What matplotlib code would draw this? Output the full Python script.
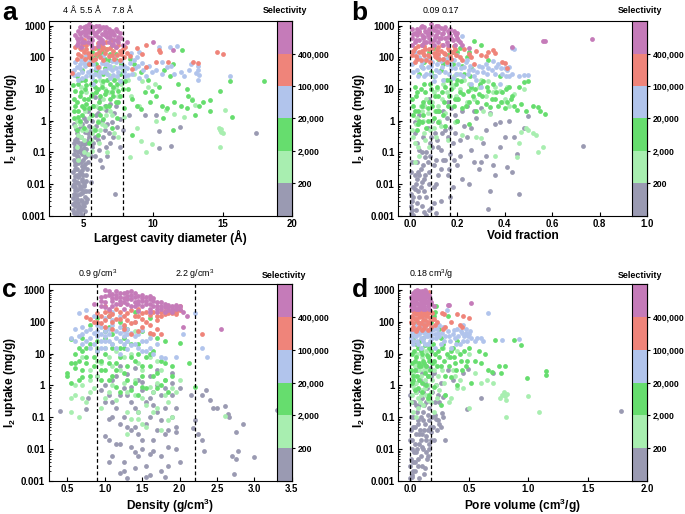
import matplotlib

matplotlib.use("Agg")
import matplotlib.pyplot as plt
import numpy as np
from matplotlib.ticker import LogLocator, NullFormatter

plt.rcParams["font.family"] = ["Liberation Sans", "DejaVu Sans"]
plt.rcParams["font.weight"] = "bold"
plt.rcParams["mathtext.default"] = "regular"

# selectivity classes, low to high
class_colors = ["#9a9ab2", "#a8eeb0", "#66dd6e", "#b1c4ec", "#ef847a", "#c57bb9"]
class_bounds = ["200", "2,000", "20,000", "100,000", "400,000"]

y_ticks = [0.001, 0.01, 0.1, 1, 10, 100, 1000]
y_tick_labels = ["0.001", "0.01", "0.1", "1", "10", "100", "1000"]

# ---- a: largest cavity diameter (A) vs I2 uptake (mg/g)
lcd_gray = [(4.3, 0.0012), (4.5, 0.0011), (4.7, 0.0013), (4.4, 0.002), (4.8, 0.0018), (4.6, 0.0025),
            (4.2, 0.0023), (5.0, 0.002), (4.5, 0.0035), (4.9, 0.003), (4.3, 0.005), (4.7, 0.005),
            (5.1, 0.004), (4.4, 0.008), (4.8, 0.007), (4.6, 0.011), (5.0, 0.01), (4.3, 0.014),
            (4.9, 0.015), (4.5, 0.02), (5.2, 0.02), (4.7, 0.025), (4.4, 0.03), (5.0, 0.035),
            (4.6, 0.045), (4.8, 0.05), (5.3, 0.05), (4.3, 0.06), (5.1, 0.07), (4.5, 0.08),
            (4.9, 0.09), (5.5, 0.08), (4.7, 0.12), (5.2, 0.13), (4.4, 0.15), (5.0, 0.18),
            (5.6, 0.15), (4.6, 0.22), (5.3, 0.25), (4.8, 0.3), (5.8, 0.3), (4.5, 0.4),
            (5.1, 0.45), (4.7, 0.6), (5.4, 0.7), (4.9, 0.8), (4.3, 0.8), (5.6, 1.0),
            (5.0, 1.2), (5.9, 1.5), (5.3, 2.0), (6.1, 2.5), (5.7, 3.0), (6.3, 1.0),
            (6.5, 0.5), (6.0, 0.25), (6.6, 0.15), (5.8, 0.08), (6.2, 0.06), (6.8, 0.4),
            (7.0, 0.9), (7.2, 1.8), (6.9, 3.5), (7.4, 0.65), (7.6, 0.15), (6.3, 0.036),
            (6.67, 0.075), (7.27, 0.005), (5.5, 0.012), (5.4, 0.006), (4.9, 0.0016), (5.2, 0.0028),
            (8.23, 1.5), (9.43, 1.5), (10.2, 1.5), (10.45, 0.46), (11.94, 0.65), (10.4, 0.14),
            (11.3, 0.16), (17.4, 0.4), (6.2, 5.0), (5.8, 5.5), (6.5, 3.0), (4.6, 0.0016),
            (4.4, 0.0045), (4.8, 0.0032), (4.5, 0.0065), (4.7, 0.009), (4.3, 0.01), (5.0, 0.006),
            (4.6, 0.017), (4.8, 0.022), (4.4, 0.04), (4.9, 0.028), (4.6, 0.07), (4.8, 0.1),
            (4.4, 0.25), (4.25, 0.0015), (4.55, 0.0013), (4.85, 0.0011), (5.1, 0.0014),
            (4.35, 0.0028), (4.65, 0.0021), (4.95, 0.0024), (5.25, 0.0035), (4.25, 0.0038),
            (4.55, 0.0045), (4.85, 0.0052), (5.15, 0.0062), (4.4, 0.0065), (4.7, 0.0075),
            (5.0, 0.0085), (4.25, 0.0085), (4.55, 0.012), (4.85, 0.0125), (5.15, 0.013),
            (4.35, 0.018), (4.65, 0.02), (4.95, 0.019), (5.25, 0.03), (4.25, 0.025), (4.55, 0.03),
            (4.85, 0.038), (5.1, 0.042), (4.35, 0.05), (4.65, 0.055), (4.95, 0.06), (5.2, 0.075),
            (4.3, 0.09), (4.6, 0.1), (4.9, 0.12), (5.1, 0.1), (4.4, 0.12), (4.7, 0.16), (5.0, 0.14),
            (4.3, 0.2), (4.55, 0.28), (4.85, 0.2), (5.15, 0.2), (5.4, 0.3), (4.45, 0.55), (5.3, 0.4),
            (5.5, 0.5), (5.7, 0.2), (6.1, 0.12), (5.9, 0.7), (6.4, 0.3), (6.9, 0.2), (7.1, 0.3),
            (6.7, 0.8), (6.0, 1.8), (6.6, 2.2), (7.3, 3), (7.6, 1.1), (5.5, 1.5), (5.2, 1.0),
            (7.8, 0.5)]
lcd_lgreen = [(4.6, 0.06), (5.0, 0.1), (4.5, 0.15), (5.3, 0.09), (5.6, 0.11), (4.8, 0.3),
              (5.2, 0.5), (4.4, 0.7), (5.7, 0.6), (6.0, 1.0), (6.3, 0.8), (6.6, 1.5),
              (6.9, 2.0), (7.2, 0.4), (7.5, 0.3), (6.1, 0.2), (5.5, 0.25), (5.9, 3.0),
              (6.4, 5.0), (6.8, 8.0), (7.3, 12), (7.7, 15), (8.2, 20), (6.2, 20),
              (5.6, 15), (5.2, 8), (4.8, 12), (7.0, 25), (7.8, 40), (8.6, 30),
              (9.2, 18), (9.6, 12), (10.1, 15), (8.4, 6), (9.0, 3), (8.8, 0.6),
              (10.2, 1.0), (10.9, 2.2), (11.5, 1.6), (12.2, 1.3), (13.0, 3.2), (8.3, 0.07),
              (9.1, 0.23), (9.5, 0.1), (9.9, 0.19), (14.8, 0.5), (14.9, 0.45), (14.7, 0.6),
              (15.0, 0.4), (14.8, 0.15), (15.2, 2.2), (14.9, 0.55), (6.7, 0.1), (7.9, 1.3),
              (12.8, 5.0), (6.5, 10), (7.5, 6), (5.8, 30), (6.6, 35), (7.2, 50),
              (4.6, 0.35), (4.9, 0.5), (4.7, 0.8), (5.0, 0.25), (4.5, 1.0), (5.4, 1.2),
              (5.1, 2.0), (6.2, 0.5), (5.6, 0.4), (6.5, 0.7), (7.0, 1.5), (6.4, 2.5),
              (5.5, 25), (6.0, 35), (6.8, 28), (7.4, 22), (7.6, 30), (6.3, 15), (7.1, 10),
              (5.9, 8), (5.0, 20)]
lcd_green = [(4.2, 13), (4.4, 3), (4.3, 5), (4.6, 2), (4.9, 1.5), (5.2, 3.5), (4.8, 8), (5.5, 6),
             (4.5, 25), (5.1, 20), (5.8, 12), (6.2, 6), (6.6, 3), (5.9, 40), (6.4, 30), (6.9, 15),
             (7.1, 6), (7.5, 4), (7.9, 2.5), (8.2, 10), (8.5, 5), (8.8, 3), (9.1, 2.4), (9.4, 8),
             (9.8, 4), (10.2, 6), (10.6, 3), (11.0, 2.5), (11.5, 4), (12.0, 3), (12.4, 2.6),
             (12.8, 4.5), (9.6, 20), (10.4, 12), (11.2, 25), (11.8, 14), (12.4, 10), (10.8, 40),
             (11.4, 60), (12.1, 176), (13.6, 4), (14.1, 4.5), (14.8, 8.6), (15.5, 18), (18.0, 18),
             (15.7, 1.35), (14.1, 2.0), (13.0, 1.5), (8.5, 0.36), (7.0, 0.6), (6.0, 0.35),
             (5.4, 0.2), (5.0, 0.6), (4.7, 1.0), (5.3, 60), (5.8, 100), (6.3, 150), (6.8, 80),
             (7.3, 130), (7.7, 60), (8.3, 90), (4.9, 40), (5.5, 90), (6.0, 200), (7.0, 250),
             (6.5, 45), (7.6, 30), (8.0, 18), (8.6, 60), (9.1, 35), (9.9, 8.5), (10.7, 1.2),
             (11.4, 0.5), (12.5, 6), (13.3, 3), (7.4, 1.2), (6.2, 1.5),
             (4.3, 2), (4.5, 4), (4.7, 6), (4.9, 3), (5.1, 10), (5.3, 5), (5.5, 15), (5.7, 3),
             (5.9, 8), (6.1, 4), (6.3, 12), (6.5, 7), (6.7, 20), (6.9, 5), (7.1, 12), (7.3, 4),
             (7.5, 9), (7.7, 18), (4.4, 9), (4.6, 15), (4.8, 20), (5.0, 5), (5.2, 13), (5.4, 2.5),
             (5.6, 7), (5.8, 18), (6.0, 10), (6.2, 2.5), (6.4, 18), (6.6, 9), (6.8, 3), (7.0, 8),
             (7.2, 20), (7.4, 14), (7.6, 6), (7.8, 10), (4.3, 1.2), (4.6, 1.3), (5.0, 2.5),
             (5.6, 1.5), (6.0, 0.9), (6.4, 1.1), (5.8, 0.5), (4.5, 0.5), (5.2, 100), (5.6, 150),
             (6.1, 120), (6.5, 90), (6.9, 130), (7.3, 80), (5.9, 60), (6.6, 180)]
lcd_blue = [(4.3, 28), (4.6, 30), (4.9, 35), (5.2, 25), (5.5, 40), (5.8, 30), (6.1, 50), (6.4, 35),
            (6.7, 60), (7.0, 40), (7.3, 70), (7.6, 50), (7.9, 35), (8.3, 65), (8.7, 45), (9.2, 65),
            (9.7, 55), (10.2, 40), (10.6, 30), (11.0, 50), (11.5, 30), (12.0, 35), (12.7, 64),
            (13.25, 55), (13.2, 40), (13.3, 28), (13.25, 20), (13.1, 32), (11.7, 224), (11.2, 214),
            (15.5, 25), (9.0, 150), (8.4, 140), (8.8, 100), (10.4, 210), (4.7, 60), (5.0, 90),
            (5.4, 70), (5.0, 200), (7.2, 100), (6.4, 110), (8.0, 25), (9.5, 25), (10.6, 70),
            (12.2, 26), (12.6, 40), (11.3, 55), (7.6, 18), (6.9, 22), (5.7, 15),
            (4.3, 40), (4.5, 50), (4.7, 45), (4.9, 22), (5.1, 55), (5.3, 35), (5.5, 28), (5.7, 60),
            (5.9, 45), (6.1, 25), (6.3, 65), (6.5, 40), (6.7, 30), (6.9, 55), (7.1, 28), (7.3, 45),
            (7.5, 35), (7.7, 75), (7.9, 55), (8.1, 45), (8.5, 30), (8.9, 55), (9.3, 40), (9.9, 35),
            (4.4, 70), (4.6, 20), (5.0, 65), (5.6, 22), (6.2, 35), (6.8, 45), (7.4, 25), (8.2, 28),
            (8.6, 80), (9.0, 22), (4.8, 80), (5.2, 120), (5.8, 90), (6.5, 60), (7.0, 75)]
lcd_red = [(4.16, 32), (4.5, 90), (4.7, 200), (5.0, 150), (5.2, 250), (5.5, 120), (5.8, 200),
           (6.1, 150), (6.4, 80), (6.7, 180), (7.0, 120), (7.3, 220), (7.6, 160), (7.9, 100),
           (5.4, 60), (6.0, 50), (6.6, 300), (5.0, 350), (4.4, 220), (8.1, 138), (8.5, 44),
           (8.8, 200), (9.2, 130), (9.47, 241), (10.4, 175), (10.5, 150), (11.1, 72), (12.9, 72),
           (13.25, 68), (14.6, 150), (15.0, 132), (9.5, 50), (10.2, 70), (7.0, 350), (5.8, 90),
           (4.8, 110), (6.2, 250), (4.6, 130), (4.8, 180), (5.1, 90), (5.3, 140), (5.6, 200),
           (5.7, 80), (5.9, 130), (6.2, 100), (6.3, 180), (6.5, 140), (6.8, 110), (6.9, 200),
           (7.1, 160), (7.2, 90), (7.4, 120), (7.5, 250), (7.7, 130), (7.8, 180), (8.3, 110),
           (8.0, 220), (5.2, 180), (4.9, 250), (6.0, 280), (6.4, 220), (7.6, 80), (5.4, 100)]
lcd_purple = [(4.4, 500), (4.6, 700), (4.8, 400), (5.0, 900), (5.2, 600), (5.4, 1100), (5.6, 800),
              (5.8, 500), (6.0, 700), (6.2, 400), (6.4, 900), (6.6, 600), (6.8, 300), (7.0, 700),
              (7.2, 500), (7.4, 350), (7.6, 600), (4.6, 350), (5.0, 300), (5.5, 400), (6.1, 300),
              (6.7, 450), (5.3, 800), (5.9, 1000), (6.5, 700), (7.3, 800), (4.5, 250), (7.8, 250),
              (8.1, 300), (9.98, 306), (11.4, 176), (5.1, 500), (5.7, 650), (6.3, 550), (6.9, 500),
              (7.5, 450), (4.9, 650), (5.5, 260), (6.0, 230), (7.1, 270),
              (4.5, 400), (4.7, 550), (4.9, 300), (5.1, 750), (5.3, 450), (5.4, 650), (5.6, 350),
              (5.7, 900), (5.9, 600), (6.0, 450), (6.2, 800), (6.3, 350), (6.5, 500), (6.6, 900),
              (6.8, 650), (6.9, 400), (7.1, 600), (7.2, 350), (7.4, 700), (7.5, 300), (7.7, 400),
              (4.7, 900), (5.2, 1000), (5.5, 950), (6.1, 950), (6.8, 800), (4.6, 280), (5.3, 300),
              (6.4, 280), (7.0, 250), (5.6, 220), (4.8, 220), (7.3, 220)]

# ---- b: void fraction
vf_gray = [(0.005, 0.0012), (0.01, 0.003), (0.015, 0.008), (0.02, 0.02), (0.025, 0.0015), (0.03, 0.05),
           (0.035, 0.006), (0.04, 0.12), (0.045, 0.03), (0.05, 0.002), (0.055, 0.3), (0.06, 0.015),
           (0.065, 0.07), (0.07, 0.004), (0.075, 0.6), (0.08, 0.025), (0.085, 0.2), (0.09, 0.0018),
           (0.095, 1.0), (0.1, 0.04), (0.11, 0.01), (0.12, 0.15), (0.13, 0.003), (0.14, 0.06),
           (0.15, 0.5), (0.16, 0.02), (0.17, 0.09), (0.18, 0.008), (0.19, 1.5), (0.2, 0.04),
           (0.21, 0.25), (0.22, 0.015), (0.23, 0.7), (0.24, 3), (0.25, 0.01), (0.26, 0.12),
           (0.27, 0.05), (0.28, 1.2), (0.29, 0.03), (0.3, 2.5), (0.31, 0.2), (0.32, 0.08),
           (0.33, 0.0017), (0.34, 0.006), (0.35, 0.04), (0.36, 0.8), (0.38, 0.15), (0.4, 0.3),
           (0.42, 1.0), (0.43, 0.025), (0.45, 0.09), (0.46, 0.005), (0.48, 0.6), (0.5, 1.4),
           (0.73, 0.16), (0.02, 0.4), (0.04, 1.5), (0.06, 3), (0.08, 5), (0.12, 2), (0.16, 4),
           (0.2, 5), (0.003, 0.001), (0.03, 0.0025), (0.11, 0.0012), (0.07, 0.0011), (0.13, 0.03),
           (0.17, 0.004), (0.05, 0.1), (0.005, 0.002), (0.01, 0.0015), (0.015, 0.004), (0.02, 0.007),
           (0.025, 0.01), (0.03, 0.015), (0.035, 0.025), (0.04, 0.004), (0.045, 0.008), (0.05, 0.012),
           (0.055, 0.04), (0.06, 0.006), (0.065, 0.02), (0.07, 0.1), (0.075, 0.05), (0.08, 0.01),
           (0.085, 0.08), (0.09, 0.3), (0.095, 0.15), (0.1, 0.008), (0.105, 0.4), (0.11, 0.06),
           (0.115, 0.25), (0.12, 0.02), (0.125, 0.9), (0.13, 0.12), (0.135, 0.4), (0.14, 2),
           (0.15, 0.06), (0.155, 1.2), (0.16, 0.3), (0.165, 0.03), (0.17, 0.6), (0.175, 2.5),
           (0.18, 0.2), (0.185, 0.06), (0.19, 0.4), (0.2, 1.0), (0.21, 0.08), (0.22, 2), (0.24, 0.3),
           (0.26, 0.6), (0.27, 2), (0.3, 0.05), (0.32, 0.5), (0.34, 1.8), (0.36, 0.02), (0.38, 0.9),
           (0.41, 0.035), (0.44, 0.3), (0.02, 0.9), (0.01, 0.05), (0.03, 0.2), (0.005, 0.025),
           (0.015, 0.0011), (0.04, 0.02), (0.06, 0.0013), (0.08, 0.0015), (0.1, 0.0025), (0.005, 0.005)]
vf_lgreen = [(0.01, 0.5), (0.02, 0.2), (0.03, 1.2), (0.04, 0.08), (0.05, 2), (0.06, 0.4), (0.07, 5),
             (0.08, 0.15), (0.09, 1), (0.1, 8), (0.11, 0.3), (0.12, 3), (0.13, 0.7), (0.14, 15),
             (0.15, 1.8), (0.16, 0.25), (0.17, 6), (0.18, 12), (0.19, 0.9), (0.2, 30), (0.22, 0.35),
             (0.24, 4), (0.26, 10), (0.28, 0.3), (0.3, 0.28), (0.32, 6), (0.34, 1.6), (0.36, 0.08),
             (0.38, 9), (0.4, 5), (0.42, 3), (0.44, 7), (0.45, 0.07), (0.46, 0.2), (0.47, 0.45),
             (0.49, 0.6), (0.5, 0.5), (0.52, 0.42), (0.53, 0.35), (0.54, 0.1), (0.56, 0.15),
             (0.48, 10), (0.36, 12), (0.3, 20), (0.25, 15), (0.02, 0.05), (0.06, 3), (0.1, 0.6),
             (0.015, 0.3), (0.025, 0.8), (0.035, 0.15), (0.045, 3), (0.055, 1), (0.065, 0.25),
             (0.075, 1.8), (0.085, 0.5), (0.095, 4), (0.105, 2), (0.115, 10), (0.125, 1), (0.135, 5),
             (0.145, 20), (0.155, 8), (0.165, 3), (0.175, 15), (0.185, 25), (0.195, 6), (0.21, 10),
             (0.23, 20), (0.27, 5), (0.29, 12), (0.31, 2), (0.33, 18), (0.35, 8), (0.39, 4), (0.41, 12)]
vf_green = [(0.01, 5), (0.02, 2), (0.03, 8), (0.04, 1), (0.05, 3), (0.06, 15), (0.07, 0.6), (0.08, 4),
            (0.09, 10), (0.1, 25), (0.11, 2), (0.12, 6), (0.13, 40), (0.14, 1.5), (0.15, 12), (0.16, 3),
            (0.17, 20), (0.18, 60), (0.19, 5), (0.2, 150), (0.21, 8), (0.22, 2.5), (0.23, 30),
            (0.24, 100), (0.25, 4), (0.26, 12), (0.27, 320), (0.28, 2), (0.29, 7), (0.3, 250),
            (0.31, 18), (0.32, 3.5), (0.33, 9), (0.34, 2.8), (0.35, 15), (0.36, 5), (0.37, 3),
            (0.38, 25), (0.39, 8), (0.4, 2.5), (0.41, 4), (0.42, 12), (0.43, 6), (0.44, 3),
            (0.45, 2.2), (0.46, 12), (0.48, 17), (0.5, 18), (0.47, 3.5), (0.49, 2), (0.52, 3),
            (0.54, 2.8), (0.55, 2.0), (0.57, 1.6), (0.02, 12), (0.04, 30), (0.06, 70), (0.08, 150),
            (0.1, 200), (0.12, 90), (0.14, 60), (0.16, 120), (0.03, 0.5), (0.05, 0.9), (0.1, 1.2),
            (0.15, 0.7), (0.2, 1), (0.25, 0.8), (0.22, 55), (0.26, 45), (0.33, 80), (0.2, 20),
            (0.015, 3), (0.025, 6), (0.035, 2), (0.045, 10), (0.055, 4), (0.065, 8), (0.075, 2.5),
            (0.085, 15), (0.095, 3), (0.105, 6), (0.115, 12), (0.125, 2), (0.135, 8), (0.145, 4),
            (0.155, 20), (0.165, 6), (0.175, 10), (0.185, 3), (0.195, 14), (0.205, 5), (0.215, 18),
            (0.225, 7), (0.235, 3), (0.245, 9), (0.255, 25), (0.265, 6), (0.275, 10), (0.285, 4),
            (0.295, 15), (0.305, 6), (0.325, 12), (0.345, 5), (0.365, 8), (0.385, 4), (0.405, 10),
            (0.425, 5), (0.015, 1.5), (0.035, 0.8), (0.055, 1.5), (0.075, 1), (0.12, 0.9), (0.05, 50),
            (0.09, 35), (0.15, 80), (0.18, 150), (0.11, 130), (0.21, 200), (0.25, 150)]
vf_blue = [(0.01, 60), (0.03, 40), (0.05, 70), (0.07, 30), (0.09, 55), (0.11, 40), (0.13, 75), (0.15, 35),
           (0.17, 60), (0.19, 45), (0.21, 30), (0.23, 50), (0.25, 40), (0.27, 25), (0.29, 55), (0.31, 35),
           (0.33, 45), (0.35, 75), (0.37, 60), (0.39, 30), (0.41, 40), (0.42, 50), (0.43, 30),
           (0.44, 190), (0.43, 200), (0.22, 470), (0.48, 27), (0.5, 28), (0.46, 25), (0.04, 100),
           (0.08, 90), (0.12, 110), (0.16, 95), (0.2, 120), (0.24, 80), (0.28, 20), (0.32, 60),
           (0.36, 30), (0.02, 150), (0.14, 20), (0.06, 25), (0.1, 18), (0.18, 22), (0.26, 15),
           (0.3, 12), (0.38, 15), (0.4, 45), (0.42, 25), (0.015, 35), (0.025, 80), (0.035, 25),
           (0.045, 55), (0.055, 45), (0.065, 90), (0.075, 50), (0.085, 30), (0.095, 70), (0.105, 25),
           (0.115, 60), (0.125, 35), (0.135, 50), (0.145, 90), (0.155, 60), (0.165, 30), (0.175, 45),
           (0.185, 80), (0.195, 30), (0.205, 60), (0.215, 45), (0.225, 25), (0.235, 70), (0.245, 30),
           (0.255, 55), (0.265, 40), (0.285, 35), (0.305, 50), (0.325, 30), (0.345, 40), (0.365, 50),
           (0.385, 45), (0.405, 25)]
vf_red = [(0.01, 120), (0.02, 200), (0.03, 90), (0.04, 150), (0.05, 250), (0.06, 120), (0.07, 80),
          (0.08, 180), (0.09, 300), (0.1, 140), (0.11, 100), (0.12, 220), (0.13, 160), (0.14, 90),
          (0.15, 130), (0.16, 200), (0.17, 110), (0.18, 150), (0.02, 70), (0.05, 160), (0.08, 110),
          (0.12, 130), (0.19, 180), (0.21, 100), (0.22, 80), (0.25, 130), (0.28, 160), (0.32, 110),
          (0.33, 150), (0.35, 170), (0.36, 140), (0.39, 70), (0.4, 65), (0.41, 45), (0.3, 120),
          (0.04, 650), (0.06, 230), (0.015, 160), (0.025, 110), (0.035, 230), (0.045, 80),
          (0.055, 140), (0.065, 190), (0.075, 120), (0.085, 70), (0.095, 200), (0.105, 110),
          (0.115, 170), (0.125, 90), (0.135, 250), (0.145, 140), (0.155, 70), (0.165, 170),
          (0.175, 90), (0.185, 230), (0.195, 120), (0.23, 180), (0.26, 100), (0.27, 60)]
vf_purple = [(0.01, 400), (0.02, 600), (0.03, 800), (0.04, 350), (0.05, 500), (0.06, 900), (0.07, 650),
             (0.08, 400), (0.09, 1100), (0.1, 750), (0.11, 500), (0.12, 300), (0.13, 850), (0.14, 600),
             (0.15, 400), (0.16, 700), (0.17, 500), (0.18, 350), (0.19, 600), (0.2, 400), (0.02, 300),
             (0.04, 700), (0.06, 450), (0.08, 800), (0.1, 350), (0.12, 650), (0.14, 250), (0.16, 450),
             (0.03, 500), (0.07, 300), (0.11, 950), (0.15, 900), (0.05, 250), (0.09, 550), (0.13, 400),
             (0.17, 800), (0.01, 250), (0.21, 300), (0.22, 250), (0.19, 250), (0.43, 220), (0.56, 340),
             (0.57, 340), (0.77, 380), (0.25, 200), (0.015, 550), (0.025, 350), (0.035, 650),
             (0.045, 900), (0.055, 400), (0.065, 700), (0.075, 500), (0.085, 300), (0.095, 850),
             (0.105, 450), (0.115, 700), (0.125, 400), (0.135, 550), (0.145, 800), (0.155, 300),
             (0.165, 600), (0.175, 400), (0.185, 700), (0.195, 500), (0.205, 350), (0.01, 800),
             (0.05, 1000), (0.08, 600), (0.12, 1000), (0.1, 250), (0.16, 250), (0.06, 300), (0.2, 600)]

# ---- c: density (g/cm3)
den_gray = [(0.4, 0.16), (0.75, 0.18), (0.78, 0.4), (0.9, 2), (0.95, 0.7), (1.0, 0.025), (1.05, 0.004),
            (1.1, 0.1), (1.15, 0.015), (1.2, 0.5), (1.25, 0.002), (1.3, 0.05), (1.35, 0.3), (1.4, 0.008),
            (1.45, 1.5), (1.5, 0.02), (1.55, 0.003), (1.6, 0.1), (1.65, 0.6), (1.7, 0.04), (1.75, 0.006),
            (1.8, 0.2), (1.85, 0.012), (1.9, 2.5), (1.95, 0.05), (2.0, 0.004), (1.0, 1.0), (1.1, 0.3),
            (1.2, 0.06), (1.3, 0.0012), (1.4, 0.2), (1.5, 0.7), (1.6, 0.0015), (1.7, 3), (1.8, 0.0013),
            (1.9, 0.5), (1.05, 0.09), (1.15, 2), (1.25, 0.8), (1.35, 0.012), (1.45, 0.03), (1.55, 0.3),
            (1.65, 0.009), (1.75, 0.08), (1.85, 0.04), (1.95, 0.2), (2.15, 0.5), (2.2, 0.08),
            (2.25, 0.03), (2.3, 0.02), (2.32, 0.0085), (2.18, 0.045), (2.3, 0.5), (2.35, 0.7),
            (2.4, 0.35), (2.45, 0.2), (2.5, 0.2), (2.6, 0.22), (2.65, 0.13), (2.66, 0.1), (2.75, 0.035),
            (2.85, 0.06), (2.7, 0.006), (2.75, 0.005), (2.78, 0.009), (3.0, 0.0055), (2.72, 0.0017),
            (3.3, 0.17), (1.2, 4), (1.4, 3.5), (1.6, 2), (1.0, 0.3), (1.05, 0.02), (1.1, 0.006),
            (1.15, 0.2), (1.2, 0.015), (1.25, 0.1), (1.3, 0.5), (1.35, 0.04), (1.4, 0.0025),
            (1.45, 0.15), (1.5, 0.01), (1.55, 0.06), (1.6, 0.4), (1.65, 0.02), (1.7, 0.15), (1.75, 0.5),
            (1.8, 0.03), (1.85, 0.003), (1.9, 0.1), (1.95, 0.01), (2.0, 0.8), (1.1, 1.5), (1.3, 2.2),
            (1.5, 1.3), (1.7, 1.0), (1.9, 1.2), (1.2, 0.0018), (1.4, 0.05), (1.6, 0.007), (1.8, 0.8),
            (1.25, 0.004), (1.55, 0.0013), (1.75, 0.002), (1.05, 0.5), (1.35, 0.9), (1.65, 0.25),
            (1.45, 0.006), (1.95, 0.035)]
den_lgreen = [(0.55, 0.15), (0.55, 0.4), (0.6, 0.5), (0.65, 0.1), (0.7, 1), (0.75, 0.3), (0.8, 1.5),
              (0.85, 0.8), (0.9, 6), (0.95, 0.2), (1.0, 15), (1.05, 0.6), (1.1, 4), (1.15, 0.35),
              (1.2, 25), (1.25, 1.2), (1.3, 0.15), (1.35, 10), (1.4, 0.5), (1.45, 0.09), (1.5, 3),
              (1.55, 0.25), (1.6, 40), (1.65, 0.6), (1.7, 6), (1.75, 0.04), (1.8, 1.5), (1.85, 0.3),
              (1.9, 0.1), (1.95, 0.6), (2.0, 1.5), (2.6, 0.11), (1.3, 0.03), (1.55, 0.05), (0.95, 5),
              (1.1, 20), (1.25, 8), (1.4, 50), (0.8, 3), (0.7, 8), (1.7, 0.2), (0.6, 1), (0.7, 0.4),
              (0.8, 0.6), (0.9, 2), (1.0, 0.4), (1.1, 1), (1.2, 3), (1.3, 0.6), (1.4, 1.5), (1.5, 0.4),
              (1.6, 0.9), (1.7, 1.2), (1.8, 0.5), (1.9, 0.8), (1.15, 12), (1.3, 25), (1.45, 5),
              (1.05, 8), (0.9, 15), (1.6, 8), (1.75, 3), (1.65, 0.15), (1.45, 0.15), (1.85, 0.08),
              (1.5, 0.06), (1.35, 0.09)]
den_green = [(0.5, 2.5), (0.5, 2), (0.55, 28), (0.6, 3.5), (0.65, 1.5), (0.7, 12), (0.75, 5), (0.8, 2),
             (0.85, 8), (0.9, 25), (0.95, 3), (1.0, 10), (1.05, 1.5), (1.1, 40), (1.15, 5), (1.2, 15),
             (1.25, 2.5), (1.3, 60), (1.35, 8), (1.4, 1.2), (1.45, 20), (1.5, 4), (1.55, 0.8),
             (1.6, 10), (1.65, 2), (1.7, 30), (1.75, 1), (1.8, 5), (1.85, 0.6), (1.9, 2), (2.0, 22),
             (2.12, 5), (2.2, 0.9), (1.95, 230), (1.05, 150), (1.2, 100), (1.4, 200), (1.6, 130),
             (0.9, 130), (0.8, 80), (1.0, 3), (1.15, 0.9), (1.35, 0.7), (0.7, 30), (0.6, 10),
             (0.65, 6), (0.75, 15), (1.25, 30), (1.5, 50), (1.8, 25), (1.45, 0.5), (1.05, 70),
             (0.55, 1.2), (0.6, 5), (0.65, 15), (0.7, 3), (0.75, 8), (0.8, 20), (0.85, 4), (0.9, 12),
             (0.95, 6), (1.0, 30), (1.05, 5), (1.1, 15), (1.15, 3), (1.2, 8), (1.25, 15), (1.3, 4),
             (1.35, 20), (1.4, 6), (1.45, 10), (1.5, 2), (1.55, 8), (1.6, 4), (1.65, 12), (1.7, 2.5),
             (1.75, 6), (1.8, 1.5), (0.95, 1.5), (1.1, 2), (1.3, 1.5), (1.5, 0.9), (1.7, 0.8),
             (1.2, 0.6), (0.55, 5), (0.7, 1.8), (1.9, 4), (1.0, 50), (1.25, 70)]
den_blue = [(0.55, 30), (0.6, 25), (0.65, 190), (0.7, 40), (0.75, 230), (0.75, 25), (0.8, 60), (0.85, 20),
            (0.9, 35), (0.95, 15), (1.0, 50), (1.05, 25), (1.1, 80), (1.15, 30), (1.2, 45), (1.25, 20),
            (1.3, 60), (1.35, 600), (1.4, 35), (1.45, 15), (1.5, 25), (1.55, 12), (1.6, 30), (1.65, 10),
            (1.7, 20), (1.75, 8), (1.8, 7), (1.95, 8), (2.05, 40), (2.2, 190), (2.3, 15), (2.37, 7.5),
            (1.0, 130), (1.1, 200), (0.9, 12), (1.2, 10), (1.3, 14), (1.0, 15), (0.95, 70), (1.4, 100),
            (1.5, 55), (1.2, 150), (0.6, 60), (0.65, 35), (0.7, 20), (0.75, 50), (0.8, 30), (0.85, 45),
            (0.9, 80), (0.95, 25), (1.0, 35), (1.05, 60), (1.1, 20), (1.15, 50), (1.2, 70), (1.25, 35),
            (1.3, 25), (1.35, 45), (1.4, 20), (1.45, 40), (1.5, 12), (1.55, 25), (1.6, 15), (0.7, 70),
            (0.8, 15), (0.9, 50), (0.95, 40), (1.05, 40), (1.15, 15), (1.25, 50), (1.35, 18),
            (1.0, 25), (1.1, 110), (1.2, 25), (0.85, 150), (1.3, 40)]
den_red = [(0.75, 140), (0.8, 120), (0.85, 100), (0.9, 180), (0.95, 90), (1.0, 200), (1.05, 150),
           (1.1, 100), (1.15, 250), (1.2, 120), (1.25, 60), (1.3, 180), (1.35, 90), (1.4, 150),
           (1.45, 50), (1.5, 120), (1.55, 200), (1.6, 80), (1.65, 40), (1.7, 150), (1.75, 200),
           (1.8, 220), (1.85, 200), (1.9, 180), (1.95, 200), (2.0, 230), (2.0, 320), (1.75, 40),
           (1.6, 45), (2.3, 40), (1.0, 300), (1.2, 350), (1.45, 250), (1.1, 60), (1.35, 40),
           (0.9, 100), (0.95, 150), (1.0, 110), (1.05, 220), (1.1, 170), (1.15, 120), (1.2, 200),
           (1.25, 150), (1.3, 110), (1.35, 230), (1.4, 100), (1.45, 150), (1.5, 180), (1.55, 100),
           (1.6, 160), (1.65, 200), (1.7, 110), (1.75, 150), (1.8, 170), (1.85, 180), (1.9, 200),
           (1.95, 170), (1.0, 70), (1.25, 80), (1.5, 70), (1.7, 60)]
den_purple = [(0.85, 350), (0.95, 600), (1.0, 1000), (1.05, 700), (1.1, 450), (1.15, 900), (1.2, 600),
              (1.25, 800), (1.3, 500), (1.35, 700), (1.4, 400), (1.45, 650), (1.5, 550), (1.55, 350),
              (1.6, 500), (1.65, 300), (1.7, 400), (1.75, 250), (1.8, 350), (1.85, 280), (1.9, 300),
              (1.95, 250), (2.0, 300), (2.05, 200), (1.0, 400), (1.1, 300), (1.2, 350), (1.3, 850),
              (1.4, 600), (1.5, 300), (1.6, 250), (1.7, 200), (1.15, 550), (1.25, 400), (1.35, 300),
              (1.45, 450), (1.55, 600), (1.65, 450), (1.05, 250), (0.95, 300), (2.1, 150), (2.05, 70),
              (2.55, 60), (1.75, 300), (1.85, 230), (1.95, 330), (0.95, 450), (1.0, 650), (1.05, 900),
              (1.1, 550), (1.15, 350), (1.2, 800), (1.25, 550), (1.3, 350), (1.35, 500), (1.4, 800),
              (1.45, 350), (1.5, 700), (1.55, 450), (1.6, 350), (1.65, 550), (1.7, 300), (1.75, 400),
              (1.8, 280), (1.85, 330), (1.9, 250), (1.95, 280), (2.0, 250), (1.1, 750), (1.2, 450),
              (1.3, 650), (1.4, 300), (1.5, 450), (1.6, 650), (1.7, 250), (1.8, 200), (1.9, 200),
              (1.0, 280), (1.25, 250), (1.45, 220), (1.6, 200), (1.35, 900), (1.15, 700)]

# ---- d: pore volume (cm3/g)
pv_gray = [(0.005, 0.0012), (0.01, 0.005), (0.02, 0.02), (0.03, 0.002), (0.04, 0.05), (0.05, 0.008),
           (0.06, 0.15), (0.07, 0.003), (0.08, 0.03), (0.09, 0.4), (0.1, 0.012), (0.11, 0.08),
           (0.12, 0.0017), (0.13, 1), (0.14, 0.025), (0.15, 0.006), (0.16, 0.2), (0.17, 0.05),
           (0.18, 2), (0.19, 0.1), (0.2, 0.02), (0.22, 0.09), (0.24, 0.5), (0.25, 0.06), (0.27, 0.14),
           (0.28, 0.42), (0.3, 0.02), (0.32, 3), (0.36, 1.5), (0.45, 2.5), (0.48, 0.18), (0.49, 3.2),
           (0.6, 0.4), (0.7, 2.4), (1.78, 0.16), (0.02, 0.3), (0.04, 1.2), (0.06, 3), (0.08, 0.7),
           (0.1, 2.5), (0.12, 0.25), (0.14, 4), (0.02, 0.0015), (0.04, 0.004), (0.06, 0.01),
           (0.08, 0.0012), (0.1, 0.003), (0.12, 0.04), (0.14, 0.008), (0.16, 0.015), (0.03, 0.1),
           (0.07, 0.06), (0.11, 0.6), (0.15, 0.12), (0.18, 0.035), (0.21, 0.3), (0.26, 1.2),
           (0.23, 0.04), (0.01, 0.04), (0.05, 0.25), (0.09, 0.02), (0.13, 0.0025), (0.005, 0.003),
           (0.015, 0.0013), (0.015, 0.01), (0.025, 0.004), (0.025, 0.05), (0.035, 0.008), (0.035, 0.3),
           (0.045, 0.015), (0.045, 0.002), (0.055, 0.03), (0.055, 0.6), (0.065, 0.005), (0.065, 0.08),
           (0.075, 0.015), (0.075, 0.25), (0.085, 0.04), (0.085, 1.5), (0.095, 0.006), (0.095, 0.1),
           (0.105, 0.03), (0.105, 0.4), (0.115, 0.01), (0.115, 0.15), (0.125, 0.06), (0.125, 1.2),
           (0.135, 0.02), (0.135, 0.3), (0.145, 0.005), (0.145, 0.8), (0.155, 0.04), (0.155, 2),
           (0.165, 0.08), (0.165, 0.01), (0.175, 0.3), (0.175, 0.02), (0.185, 0.6), (0.195, 0.05),
           (0.21, 0.12), (0.22, 1), (0.24, 0.08), (0.25, 0.3), (0.26, 0.05), (0.28, 0.1), (0.2, 2.5),
           (0.17, 3.5), (0.005, 0.02), (0.01, 0.1), (0.005, 0.5)]
pv_lgreen = [(0.01, 0.3), (0.02, 1), (0.03, 0.15), (0.04, 2), (0.05, 0.6), (0.06, 5), (0.07, 0.2),
             (0.08, 1.5), (0.09, 0.5), (0.1, 8), (0.11, 0.25), (0.12, 3), (0.13, 0.8), (0.14, 12),
             (0.15, 0.35), (0.16, 2), (0.18, 0.6), (0.2, 5), (0.22, 1), (0.25, 0.7), (0.27, 3),
             (0.3, 0.5), (0.32, 8), (0.35, 0.4), (0.38, 2), (0.42, 1.5), (0.45, 0.8), (0.5, 0.2),
             (0.55, 2.5), (0.6, 1.2), (0.65, 1.5), (0.7, 1.2), (0.76, 0.4), (0.78, 0.5), (0.79, 0.6),
             (0.8, 0.45), (0.81, 0.35), (0.82, 0.55), (0.81, 0.1), (1.0, 0.47), (1.09, 0.15),
             (0.28, 15), (0.4, 12), (0.5, 10), (0.2, 0.15), (0.05, 0.1), (0.015, 0.5), (0.025, 2.5),
             (0.035, 0.8), (0.045, 4), (0.055, 1.2), (0.065, 0.4), (0.075, 3), (0.085, 0.3),
             (0.095, 2), (0.105, 0.7), (0.115, 5), (0.125, 1.5), (0.135, 0.5), (0.145, 3),
             (0.155, 1), (0.165, 8), (0.175, 0.3), (0.185, 1.5), (0.2, 3), (0.23, 0.4), (0.24, 2),
             (0.29, 1.2), (0.33, 0.3), (0.36, 3), (0.4, 0.8), (0.06, 10), (0.1, 15), (0.15, 20)]
pv_green = [(0.01, 3), (0.02, 10), (0.03, 1.5), (0.04, 6), (0.05, 20), (0.06, 2), (0.07, 0.8), (0.08, 4),
            (0.09, 12), (0.1, 1.2), (0.11, 30), (0.12, 5), (0.13, 2.5), (0.14, 50), (0.15, 8), (0.16, 15),
            (0.17, 3), (0.18, 100), (0.2, 6), (0.22, 300), (0.24, 12), (0.26, 4), (0.28, 20), (0.3, 2),
            (0.32, 150), (0.34, 8), (0.36, 15), (0.38, 5), (0.4, 25), (0.42, 10), (0.44, 3), (0.46, 12),
            (0.48, 6), (0.5, 15), (0.52, 1.2), (0.55, 6), (0.58, 12), (0.6, 5), (0.63, 10), (0.66, 3),
            (0.69, 2.6), (0.72, 27), (0.75, 4), (0.77, 2.5), (0.8, 4), (0.88, 27), (0.94, 18),
            (0.99, 1.7), (1.15, 2.9), (1.15, 2.1), (0.3, 0.5), (0.2, 0.9), (0.15, 0.4), (0.35, 1.8),
            (0.25, 60), (0.21, 200), (0.06, 100), (0.02, 40), (0.1, 70), (0.4, 1.0), (0.26, 0.25),
            (0.015, 5), (0.025, 2), (0.035, 12), (0.045, 3), (0.055, 8), (0.065, 15), (0.075, 5),
            (0.085, 25), (0.095, 4), (0.105, 10), (0.115, 6), (0.125, 18), (0.135, 4), (0.145, 9),
            (0.155, 2), (0.165, 6), (0.175, 12), (0.185, 5), (0.195, 20), (0.21, 10), (0.23, 4),
            (0.25, 8), (0.27, 15), (0.29, 6), (0.31, 10), (0.33, 4), (0.35, 12), (0.37, 8), (0.39, 3),
            (0.43, 6), (0.47, 4), (0.015, 1.2), (0.045, 0.7), (0.075, 1.5), (0.105, 0.6), (0.135, 1),
            (0.165, 0.5), (0.03, 30), (0.09, 50), (0.12, 80), (0.17, 40), (0.2, 150), (0.26, 30)]
pv_blue = [(0.01, 30), (0.02, 50), (0.03, 20), (0.04, 80), (0.05, 35), (0.06, 25), (0.07, 60), (0.08, 40),
           (0.09, 15), (0.1, 70), (0.11, 30), (0.12, 45), (0.13, 20), (0.14, 100), (0.15, 35), (0.16, 55),
           (0.17, 25), (0.18, 40), (0.2, 60), (0.22, 30), (0.24, 45), (0.26, 20), (0.28, 70), (0.3, 35),
           (0.31, 240), (0.32, 50), (0.34, 25), (0.36, 40), (0.38, 30), (0.4, 60), (0.42, 20),
           (0.44, 45), (0.46, 35), (0.47, 60), (0.48, 25), (0.5, 40), (0.52, 30), (0.57, 30),
           (0.62, 25), (0.66, 190), (0.78, 27), (0.92, 28), (0.03, 150), (0.08, 200), (0.12, 130),
           (0.21, 15), (0.35, 15), (0.25, 80), (0.45, 80), (0.015, 40), (0.025, 25), (0.035, 60),
           (0.045, 35), (0.055, 50), (0.065, 20), (0.075, 45), (0.085, 70), (0.095, 30), (0.105, 50),
           (0.115, 25), (0.125, 65), (0.135, 35), (0.145, 50), (0.155, 20), (0.165, 40), (0.175, 70),
           (0.185, 30), (0.19, 55), (0.21, 40), (0.23, 60), (0.25, 35), (0.27, 45), (0.29, 25),
           (0.33, 35), (0.37, 55), (0.39, 20), (0.41, 35), (0.43, 50), (0.45, 25), (0.47, 45),
           (0.49, 35), (0.51, 50), (0.55, 25), (0.6, 30)]
pv_red = [(0.01, 100), (0.02, 150), (0.03, 70), (0.04, 200), (0.05, 120), (0.06, 60), (0.07, 180),
          (0.08, 90), (0.09, 150), (0.1, 250), (0.11, 110), (0.12, 80), (0.13, 160), (0.14, 200),
          (0.15, 100), (0.16, 850), (0.17, 130), (0.18, 70), (0.19, 180), (0.2, 120), (0.05, 50),
          (0.1, 55), (0.15, 55), (0.27, 180), (0.29, 170), (0.3, 70), (0.28, 60), (0.35, 100),
          (0.4, 170), (0.44, 70), (0.45, 150), (0.5, 130), (0.42, 80), (0.015, 130), (0.025, 90),
          (0.035, 200), (0.045, 120), (0.055, 170), (0.065, 100), (0.075, 140), (0.085, 200),
          (0.095, 90), (0.105, 150), (0.115, 200), (0.125, 110), (0.135, 80), (0.145, 150),
          (0.155, 180), (0.165, 90), (0.175, 200), (0.185, 120), (0.21, 80), (0.23, 100), (0.02, 60),
          (0.08, 70), (0.12, 65), (0.025, 220), (0.07, 250), (0.1, 180)]
pv_purple = [(0.01, 300), (0.02, 500), (0.03, 800), (0.04, 400), (0.05, 650), (0.06, 1000), (0.07, 350),
             (0.08, 700), (0.09, 450), (0.1, 900), (0.11, 550), (0.12, 300), (0.13, 750), (0.14, 400),
             (0.15, 600), (0.16, 250), (0.17, 500), (0.02, 250), (0.04, 900), (0.06, 500), (0.08, 250),
             (0.1, 600), (0.12, 450), (0.14, 850), (0.16, 350), (0.03, 400), (0.07, 600), (0.11, 350),
             (0.18, 400), (0.2, 300), (0.32, 340), (0.33, 340), (0.52, 380), (0.05, 250), (0.09, 800),
             (0.13, 250), (0.015, 400), (0.025, 650), (0.035, 300), (0.045, 550), (0.055, 800),
             (0.065, 350), (0.075, 900), (0.085, 500), (0.095, 650), (0.105, 350), (0.115, 800),
             (0.125, 550), (0.135, 400), (0.145, 650), (0.155, 450), (0.165, 700), (0.175, 350),
             (0.01, 600), (0.05, 400), (0.09, 300), (0.13, 1000), (0.07, 250), (0.11, 250), (0.15, 300)]

panels = [
    dict(letter="a", rect=[0.0715, 0.580, 0.355, 0.379], xlim=(2.5, 20), ytop=1400,
         xticks=[5, 10, 15, 20], xticklabels=["5", "10", "15", "20"],
         xlabel="Largest cavity diameter (Å)",
         lines=[4, 5.5, 7.8], line_labels=["4 Å", "5.5 Å", "7.8 Å"],
         classes=[lcd_gray, lcd_lgreen, lcd_green, lcd_blue, lcd_red, lcd_purple]),
    dict(letter="b", rect=[0.581, 0.580, 0.3635, 0.379], xlim=(-0.05, 1.0), ytop=1400,
         xticks=[0.0, 0.2, 0.4, 0.6, 0.8, 1.0], xticklabels=["0.0", "0.2", "0.4", "0.6", "0.8", "1.0"],
         xlabel="Void fraction",
         lines=[0.0, 0.09, 0.17], line_labels=["", "0.09", "0.17"],
         classes=[vf_gray, vf_lgreen, vf_green, vf_blue, vf_red, vf_purple]),
    dict(letter="c", rect=[0.0711, 0.0642, 0.355, 0.383], xlim=(0.25, 3.5), ytop=1500,
         xticks=[0.5, 1.0, 1.5, 2.0, 2.5, 3.0, 3.5],
         xticklabels=["0.5", "1.0", "1.5", "2.0", "2.5", "3.0", "3.5"],
         xlabel="Density (g/cm$^3$)",
         lines=[0.9, 2.2], line_labels=["0.9 g/cm$^3$", "2.2 g/cm$^3$"],
         classes=[den_gray, den_lgreen, den_green, den_blue, den_red, den_purple]),
    dict(letter="d", rect=[0.581, 0.0642, 0.3635, 0.383], xlim=(-0.1, 2.0), ytop=1500,
         xticks=[0.0, 0.5, 1.0, 1.5, 2.0], xticklabels=["0.0", "0.5", "1.0", "1.5", "2.0"],
         xlabel="Pore volume (cm$^3$/g)",
         lines=[0.0, 0.18], line_labels=["", "0.18 cm$^3$/g"],
         classes=[pv_gray, pv_lgreen, pv_green, pv_blue, pv_red, pv_purple]),
]

fig = plt.figure(figsize=(6.85, 5.14), dpi=100)

for i, p in enumerate(panels):
    ax = fig.add_axes(p["rect"])
    top_row = i < 2
    for pts, col in zip(p["classes"], class_colors):
        arr = np.array(pts)
        ax.scatter(arr[:, 0], arr[:, 1], s=12, color=col, linewidths=0, zorder=2)

    ax.set_yscale("log")
    ax.set_ylim(0.001, p["ytop"])
    ax.set_xlim(*p["xlim"])
    ax.set_yticks(y_ticks)
    ax.set_yticklabels(y_tick_labels)
    ax.yaxis.set_minor_locator(LogLocator(base=10, subs=np.arange(2, 10)))
    ax.yaxis.set_minor_formatter(NullFormatter())
    ax.set_xticks(p["xticks"])
    ax.set_xticklabels(p["xticklabels"])
    ax.tick_params(which="major", direction="in", length=3, width=0.8, labelsize=6.9)
    ax.tick_params(axis="x", pad=2.5)
    ax.tick_params(axis="y", pad=2.5)
    ax.tick_params(which="minor", direction="in", length=1.5, width=0.6)
    for lbl in ax.get_xticklabels() + ax.get_yticklabels():
        lbl.set_fontweight("bold")
    for sp in ax.spines.values():
        sp.set_linewidth(0.8)

    ax.set_xlabel(p["xlabel"], fontsize=8.6, fontweight="bold")
    ax.xaxis.set_label_coords(0.5, -0.072 if top_row else -0.082)
    ax.xaxis.label.set_va("top")
    ax.set_ylabel("I$_2$ uptake (mg/g)", fontsize=8.6, fontweight="bold")
    ax.yaxis.set_label_coords(-0.125, 0.5)

    for x, lab in zip(p["lines"], p["line_labels"]):
        ax.axvline(x, color="black", lw=0.9, ls=(0, (3, 2)), zorder=3)
        if lab:
            ax.annotate(lab, xy=(x, 1.0), xycoords=("data", "axes fraction"),
                        xytext=(0, 4.5 if top_row else 2.5), textcoords="offset points",
                        ha="center", va="bottom", fontsize=6.4, fontweight="normal")

    # discrete selectivity bar sitting on the right end of the axes
    ax_w_px = p["rect"][2] * 685
    wfrac = 15.0 / ax_w_px
    cax = ax.inset_axes([1 - wfrac, 0, wfrac, 1])
    for k, col in enumerate(class_colors):
        cax.axhspan(k, k + 1, color=col, lw=0)
    cax.set_ylim(0, len(class_colors))
    cax.set_xlim(0, 1)
    cax.set_xticks([])
    cax.yaxis.tick_right()
    cax.set_yticks(np.arange(1, len(class_colors)))
    cax.set_yticklabels(class_bounds, fontweight="bold")
    cax.tick_params(axis="y", direction="out", length=2.5, width=0.8, pad=1.5, labelsize=6.2)
    for sp in cax.spines.values():
        sp.set_linewidth(0.8)
    cax.annotate("Selectivity", xy=(0.5, 1.0), xycoords="axes fraction",
                 xytext=(0, 4.5 if top_row else 3), textcoords="offset points",
                 ha="center", va="bottom", fontsize=6.4, fontweight="bold")

    # panel letter
    fx = p["rect"][0] - 0.068
    fy = 0.961 if top_row else 0.422
    fig.text(fx, fy, p["letter"], fontsize=19, fontweight="bold", va="baseline", ha="left")

fig.savefig("out.png", dpi=100)
